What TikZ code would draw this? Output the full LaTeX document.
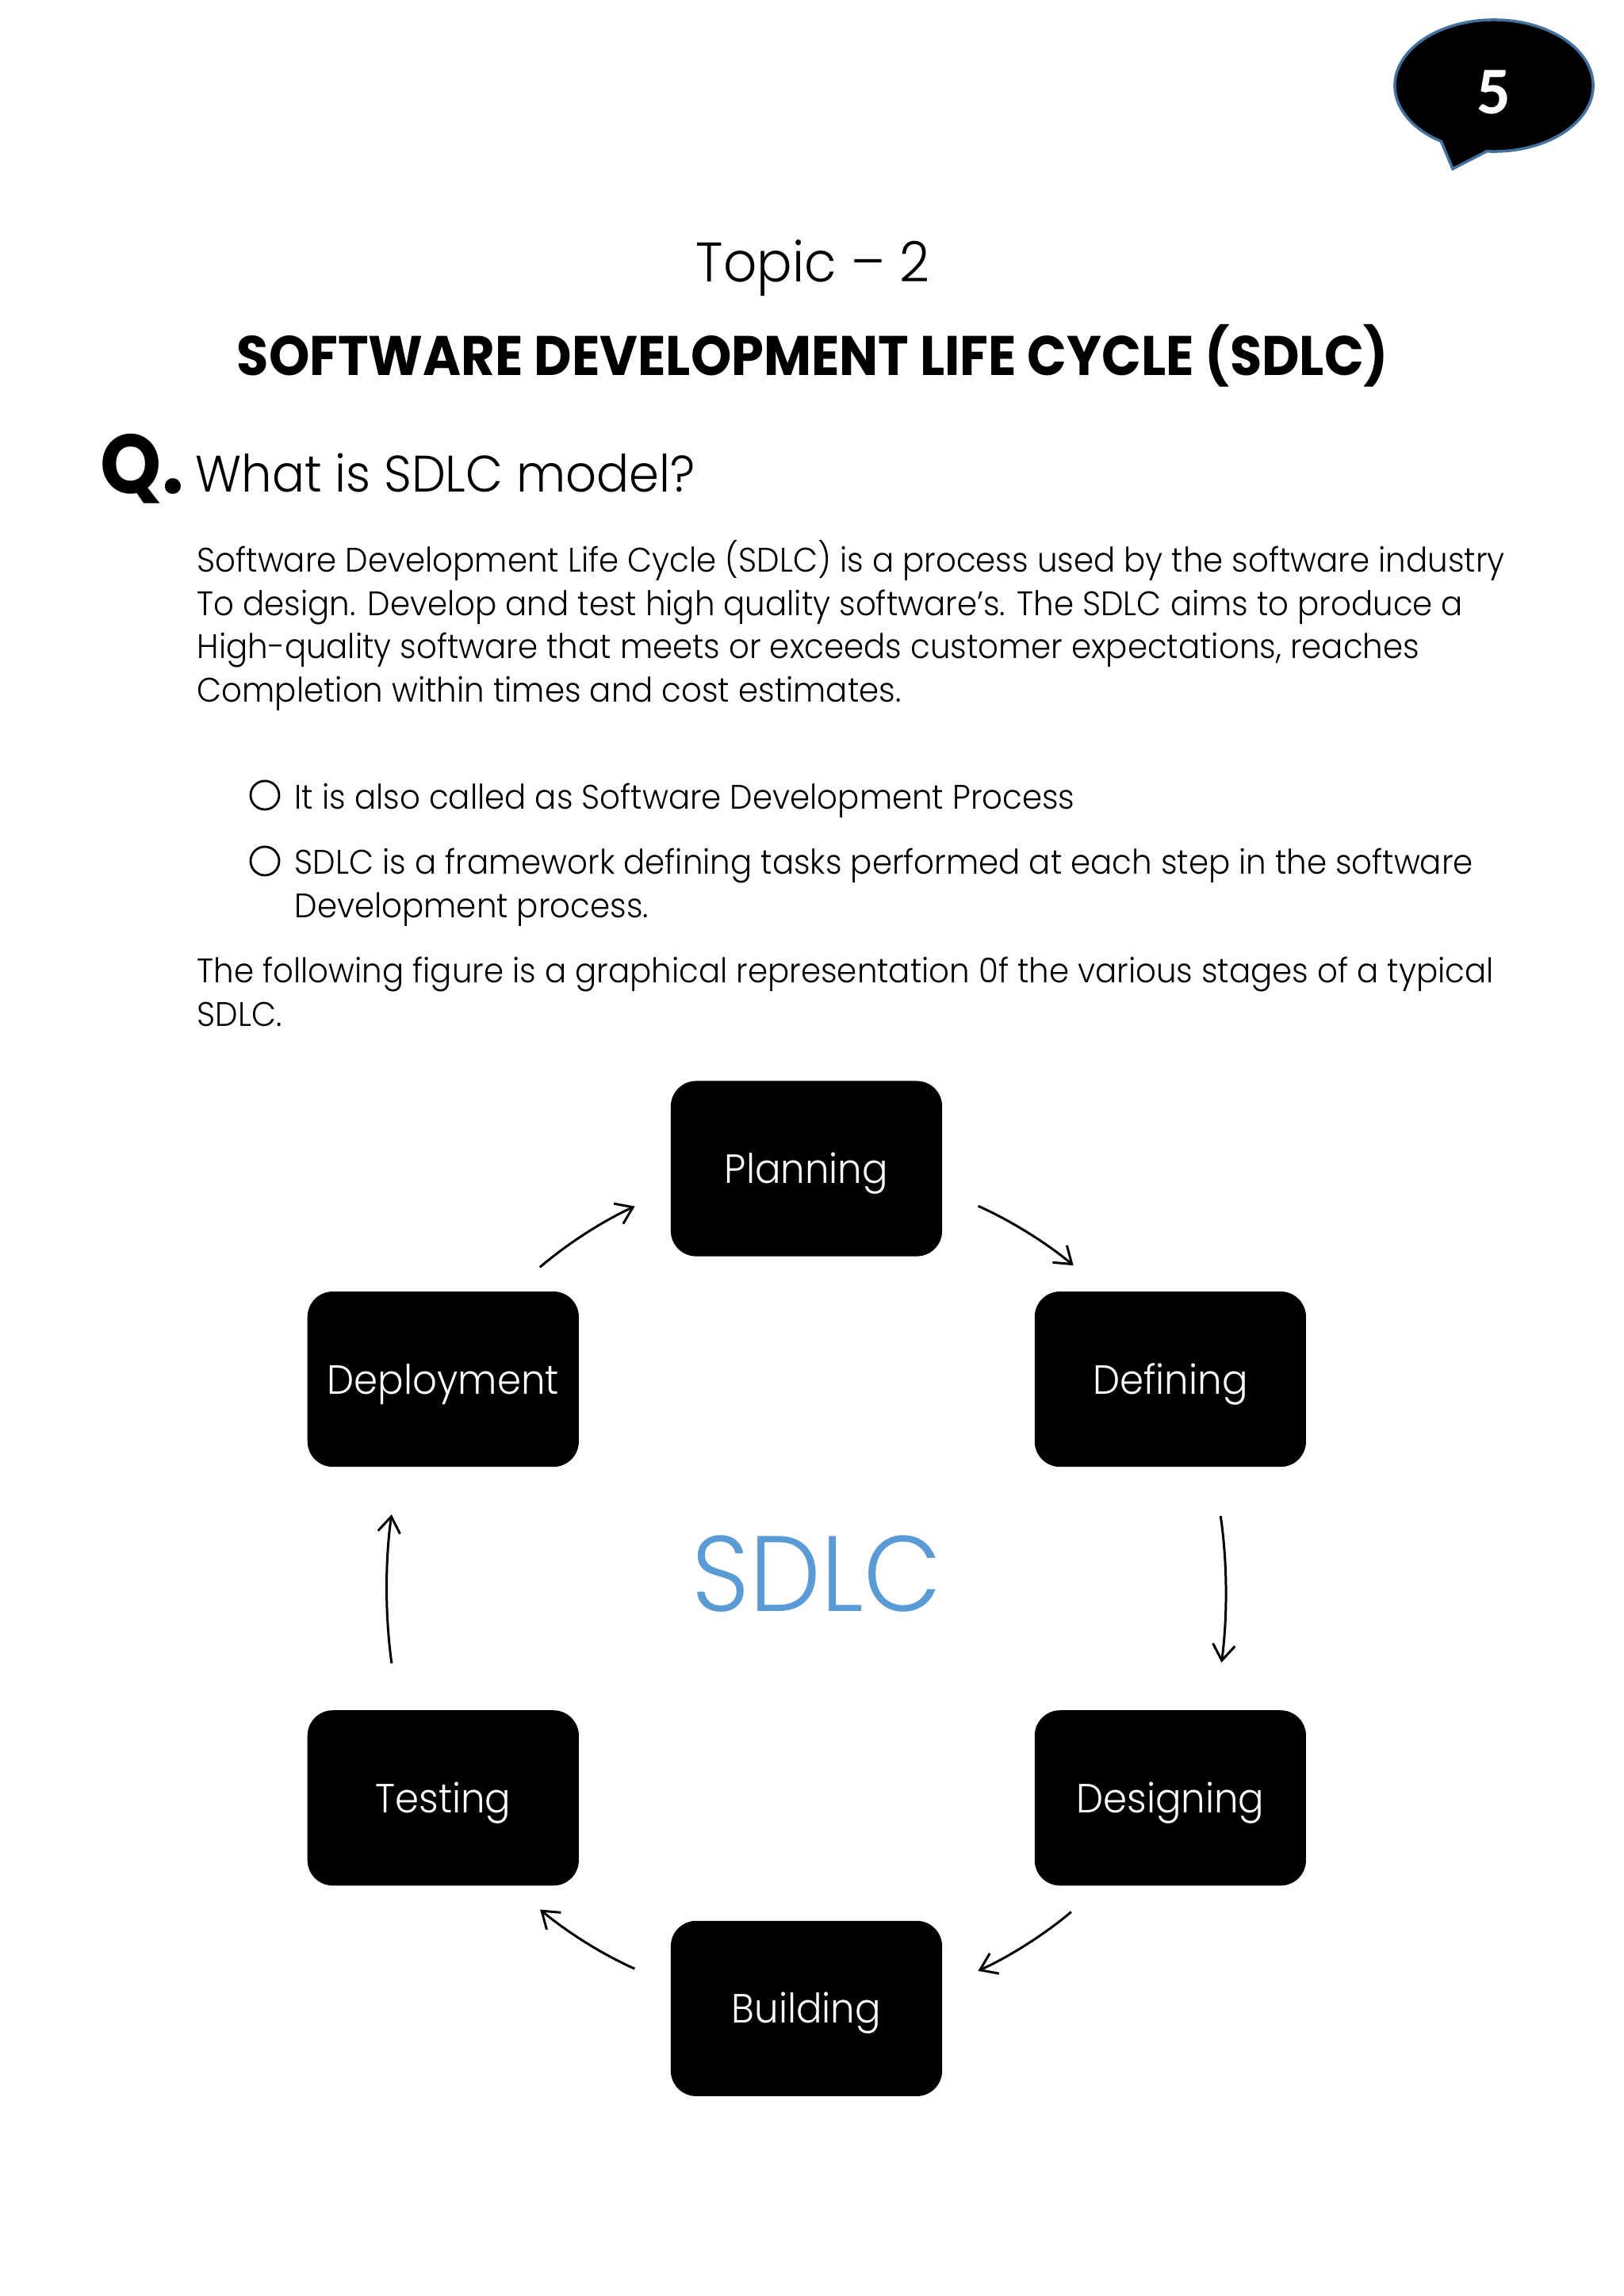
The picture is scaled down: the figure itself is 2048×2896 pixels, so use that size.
\documentclass[tikz,border=0pt]{standalone}
\usepackage{fontspec}
\usepackage{xcolor}
\setmainfont{Poppins Light}[FakeStretch=0.94]
\newfontfamily\headfont{Poppins Bold}[FakeStretch=0.93]
\newfontfamily\numfont{Carlito Bold}
\usetikzlibrary{positioning,arrows.meta,shapes.callouts}
\definecolor{sdlcblue}{HTML}{5B9BD5}
\definecolor{bubbleline}{HTML}{41719C}
\tikzset{
    stagebox/.style={fill=black, text=white, rounded corners=0.32cm, minimum width=3.42cm, minimum height=2.21cm, inner sep=0pt, text height=0.47cm, text depth=0.1cm, font=\fontsize{14.6}{18}\selectfont},
    bodytext/.style={anchor=base west, inner sep=0pt, align=left, font=\fontsize{12.2}{15.5}\selectfont},
    ringbullet/.style={draw, circle, line width=0.8pt, inner sep=0pt, minimum size=0.36cm},
    cyclearrow/.style={-{Straight Barb[length=2mm,width=2.8mm]}, line width=0.85pt}
}
\begin{document}
\begin{tikzpicture}[x=0.01cm, y=0.01cm, node distance=2cm]
    \useasboundingbox (0,0) rectangle (2048,-2896);
    \node [ellipse callout, draw=bubbleline, line width=1pt, fill=black, text=white, minimum width=2.5cm, minimum height=1.66cm, inner sep=0pt, text height=0.7cm, text depth=0cm, callout absolute pointer={(1832,-213)}, callout pointer arc=28, font=\fontsize{24}{28}\numfont] (badge) at (1884,-108) {5};

    \node [inner sep=0pt, font=\fontsize{20}{24}\selectfont] (topic) at (1025,-338) {Topic -- 2};
    \node [inner sep=0pt, font=\fontsize{20}{24}\headfont] (title) at (1025,-449) {SOFTWARE DEVELOPMENT LIFE CYCLE (SDLC)};
    \node [anchor=base west, inner sep=0pt, font=\fontsize{30}{36}\headfont] (qmark) at (126,-622) {Q.};
    \node [anchor=base west, inner sep=0pt, font=\fontsize{18.4}{24}\selectfont] (question) at (246,-620) {What is SDLC model?};

    \node [bodytext] (intro) at (248,-885) {Software Development Life Cycle (SDLC) is a process used by the software industry\\To design. Develop and test high quality software's. The SDLC aims to produce a\\High-quality software that meets or exceeds customer expectations, reaches\\Completion within times and cost estimates.};

    \node [ringbullet] (ringA) at (334,-1003) {};
    \node [bodytext] (pointA) at (371,-1020) {It is also called as Software Development Process};
    \node [ringbullet] (ringB) at (334,-1086) {};
    \node [bodytext] (pointB) at (371,-1157) {SDLC is a framework defining tasks performed at each step in the software\\Development process.};
    \node [bodytext] (outro) at (248,-1294) {The following figure is a graphical representation 0f the various stages of a typical\\SDLC.};

    \node [stagebox] (planning) at (1017,-1474) {Planning};
    \node [stagebox, below right=0.43cm and 1.152cm of planning] (defining) {Defining};
    \node [stagebox, below=3.055cm of defining] (designing) {Designing};
    \node [stagebox, below left=0.43cm and 1.152cm of designing] (building) {Building};
    \node [stagebox, above left=0.43cm and 1.145cm of building] (testing) {Testing};
    \node [stagebox, above=3.055cm of testing] (deployment) {Deployment};
    \node [inner sep=0pt, text=sdlcblue, font=\fontsize{38.5}{44}\selectfont] (sdlc) at (1030,-1985) {SDLC};

    \draw [cyclearrow, shorten <=0.49cm, shorten >=0.50cm] (planning.-9.4) to[bend left=8] (defining.127.4);
    \draw [cyclearrow, shorten <=0.62cm, shorten >=0.60cm] (defining.-64.3) to[bend left=8] (designing.63.2);
    \draw [cyclearrow, shorten <=0.50cm, shorten >=0.49cm] (designing.232.6) to[bend left=8] (building.9.4);
    \draw [cyclearrow, shorten <=0.49cm, shorten >=0.46cm] (building.170.4) to[bend left=8] (testing.-52);
    \draw [cyclearrow, shorten <=0.59cm, shorten >=0.60cm] (testing.117.6) to[bend left=8] (deployment.243);
    \draw [cyclearrow, shorten <=0.46cm, shorten >=0.49cm] (deployment.52) to[bend left=8] (planning.189.6);
\end{tikzpicture}
\end{document}
